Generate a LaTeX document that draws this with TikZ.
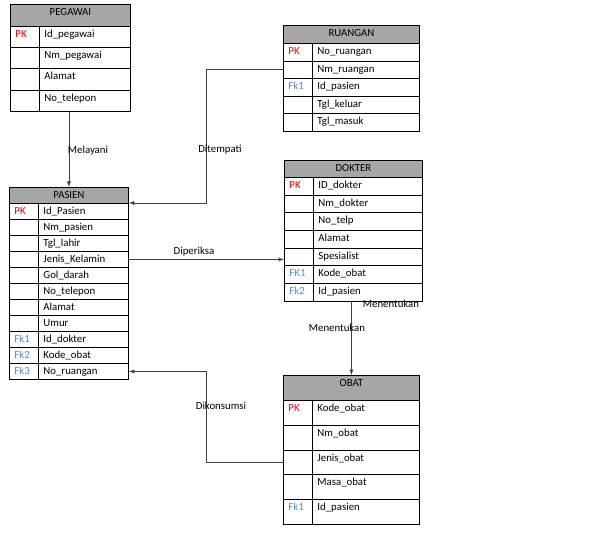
\documentclass[tikz,border=0pt]{standalone}
\usepackage{fontspec}
\setmainfont{Carlito}
\definecolor{fkblue}{RGB}{84,141,212}

\begin{document}
\begin{tikzpicture}[x=1pt, y=-1pt, font=\fontsize{10.8}{12}\selectfont]
\tikzstyle{cell} = [rectangle, draw=black, line width=0.9pt, inner xsep=5pt, inner ysep=2pt,
                    text height=9pt, align=left, anchor=north west]
\tikzstyle{head} = [rectangle, draw=black, line width=0.9pt, fill=black!35, inner xsep=0pt,
                    inner ysep=2pt, text height=9pt, anchor=north west]
\tikzstyle{rel} = [draw=black!75, line width=0.9pt, -latex]
\tikzstyle{lbl} = [inner sep=1pt]

\useasboundingbox (0,0) rectangle (594,534);

% PEGAWAI
\node[head, minimum width=120pt, minimum height=22pt, text depth=9pt] (pegawai-h) at (10,4) {PEGAWAI};
\foreach \c/\k/\n [count=\i] in {red/PK/Id\_pegawai, black//Nm\_pegawai, black//Alamat, black//No\_telepon} {
  \node[cell, text=\c, text width=19pt, minimum height=21.25pt, text depth=8.25pt] (pegawai-k\i) at (10,{26+(\i-1)*21.25}) {\k};
  \node[cell, text width=81pt, minimum height=21.25pt, text depth=8.25pt] (pegawai-\i) at (39,{26+(\i-1)*21.25}) {\n};
}

% RUANGAN
\node[head, minimum width=136pt, minimum height=18pt, text depth=5pt] (ruangan-h) at (283,25) {RUANGAN};
\foreach \c/\k/\n [count=\i] in {red/PK/No\_ruangan, black//Nm\_ruangan, fkblue/Fk1/Id\_pasien, black//Tgl\_keluar, black//Tgl\_masuk} {
  \node[cell, text=\c, text width=19pt, minimum height=17.6pt, text depth=4.6pt] (ruangan-k\i) at (283,{43+(\i-1)*17.6}) {\k};
  \node[cell, text width=97pt, minimum height=17.6pt, text depth=4.6pt] (ruangan-\i) at (312,{43+(\i-1)*17.6}) {\n};
}

% PASIEN
\node[head, minimum width=119pt, minimum height=16pt, text depth=3pt] (pasien-h) at (9,187) {PASIEN};
\foreach \c/\k/\n [count=\i] in {red/PK/Id\_Pasien, black//Nm\_pasien, black//Tgl\_lahir, black//Jenis\_Kelamin,
    black//Gol\_darah, black//No\_telepon, black//Alamat, black//Umur, fkblue/Fk1/Id\_dokter,
    fkblue/Fk2/Kode\_obat, fkblue/Fk3/No\_ruangan} {
  \node[cell, text=\c, text width=19pt, minimum height=16pt, text depth=3pt] (pasien-k\i) at (9,{203+(\i-1)*16}) {\k};
  \node[cell, text width=80pt, minimum height=16pt, text depth=3pt] (pasien-\i) at (38,{203+(\i-1)*16}) {\n};
}

% DOKTER
\node[head, minimum width=138pt, minimum height=17pt, text depth=4pt] (dokter-h) at (284,160) {DOKTER};
\foreach \c/\k/\n [count=\i] in {red/PK/ID\_dokter, black//Nm\_dokter, black//No\_telp, black//Alamat,
    black//Spesialist, fkblue/FK1/Kode\_obat, fkblue/Fk2/Id\_pasien} {
  \node[cell, text=\c, text width=19pt, minimum height=17.7pt, text depth=4.7pt] (dokter-k\i) at (284,{177+(\i-1)*17.7}) {\k};
  \node[cell, text width=99pt, minimum height=17.7pt, text depth=4.7pt] (dokter-\i) at (313,{177+(\i-1)*17.7}) {\n};
}

% OBAT
\node[head, minimum width=136pt, minimum height=25pt, text depth=12pt] (obat-h) at (283,375) {OBAT};
\foreach \c/\k/\n [count=\i] in {red/PK/Kode\_obat, black//Nm\_obat, black//Jenis\_obat, black//Masa\_obat, fkblue/Fk1/Id\_pasien} {
  \node[cell, text=\c, text width=19pt, minimum height=24.8pt, text depth=11.8pt] (obat-k\i) at (283,{400+(\i-1)*24.8}) {\k};
  \node[cell, text width=97pt, minimum height=24.8pt, text depth=11.8pt] (obat-\i) at (312,{400+(\i-1)*24.8}) {\n};
}

% relasi
\draw[rel] (pasien-h.north |- pegawai-4.south) -- (pasien-h.north);
\draw[rel] (ruangan-k2.west) -- ++(-77,0) |- (pasien-1.north east);
\draw[rel] (pasien-4.east) -- (pasien-4.east -| dokter-k5.west);
\draw[rel] (obat-h.north |- dokter-k7.south) -- (obat-h.north);
\draw[rel] (obat-k3.west) -- ++(-77,0) |- (pasien-11.east);

\node[lbl] (melayani) at (88,151) {Melayani};
\node[lbl] (ditempati) at (220,150) {Ditempati};
\node[lbl] (diperiksa) at (194,252) {Diperiksa};
\node[lbl] (menentukan) at (337,328) {Menentukan};
\node[lbl] (menentukan2) at (391,304) {Menentukan};
\node[lbl] (dikonsumsi) at (221,406) {Dikonsumsi};
\end{tikzpicture}
\end{document}
